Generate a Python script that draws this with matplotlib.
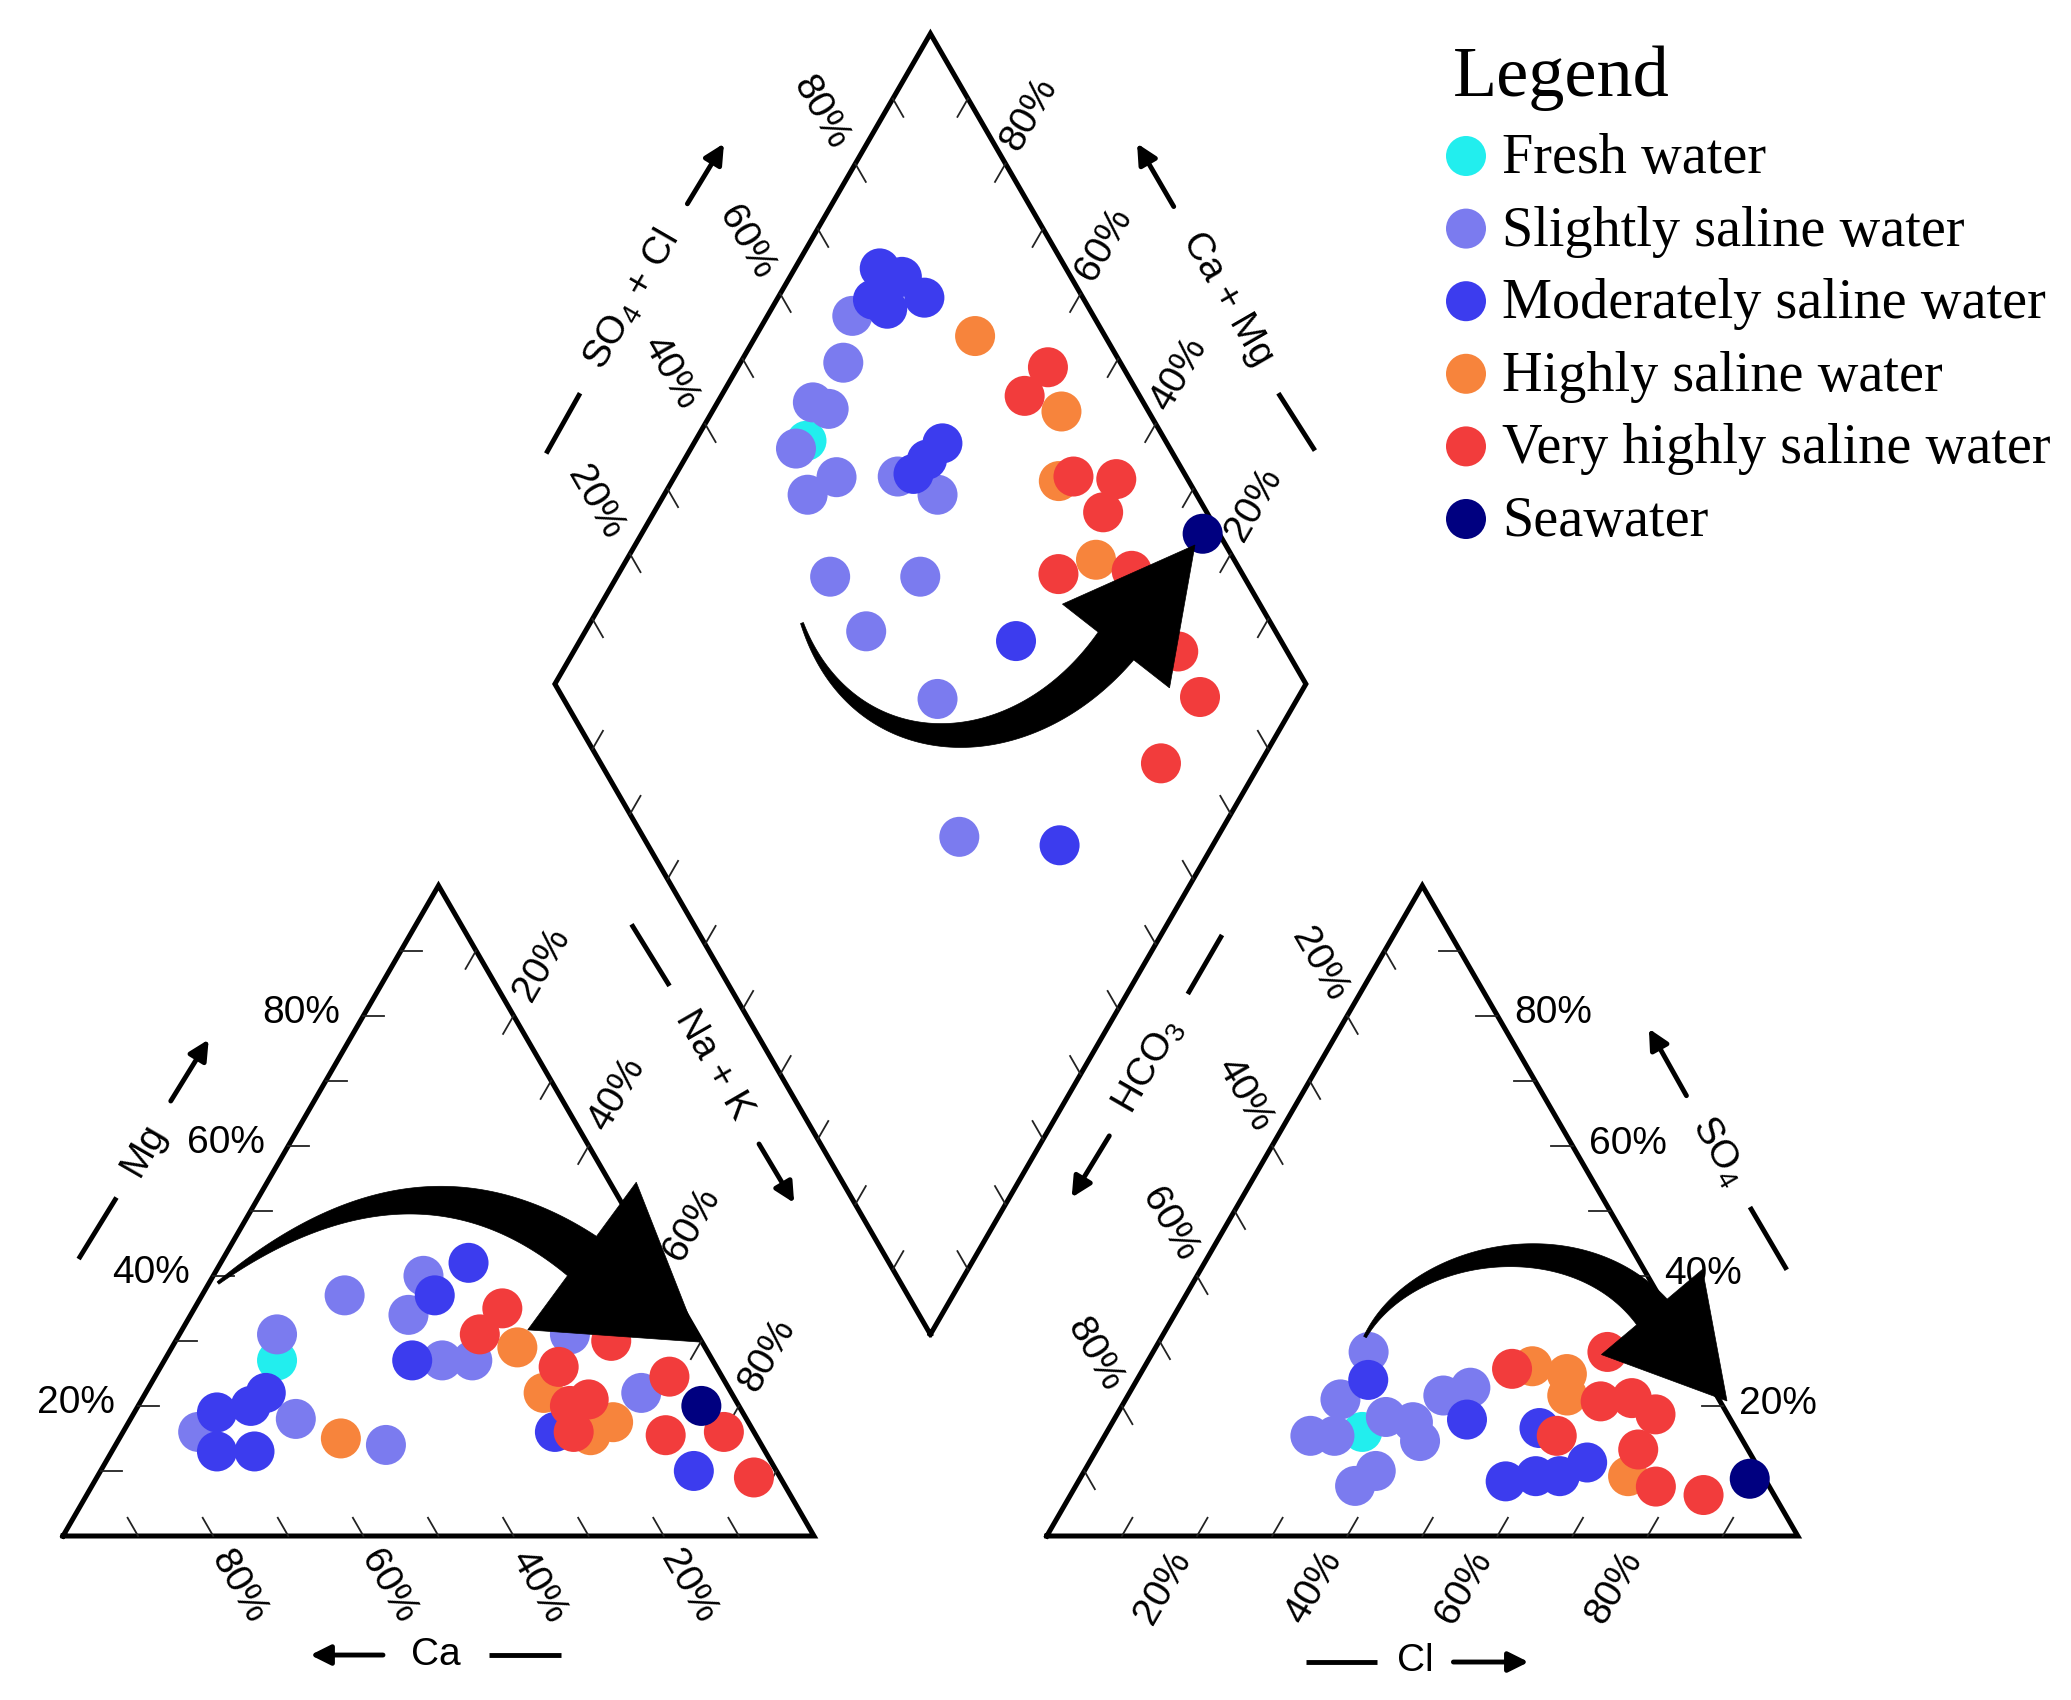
import numpy as np
import matplotlib
matplotlib.use('Agg')
import matplotlib.pyplot as plt
from matplotlib.patches import Polygon

plt.rcParams['font.family'] = ['Liberation Sans', 'DejaVu Sans']
plt.rcParams['mathtext.fontset'] = 'custom'
plt.rcParams['mathtext.rm'] = 'Liberation Sans'
plt.rcParams['mathtext.it'] = 'Liberation Sans:italic'
plt.rcParams['mathtext.bf'] = 'Liberation Sans:bold'

# ---------------- data ----------------
categories = ['Fresh water', 'Slightly saline water', 'Moderately saline water',
              'Highly saline water', 'Very highly saline water', 'Seawater']
colors = ['#22eeee', '#7b7bef', '#3c3cee', '#f7843c', '#f23c3c', '#000080']

# cation triangle: Ca %, Mg %  (Na+K = 100 - Ca - Mg)
cation_ca = [
    [58],
    [56, 74, 60, 50, 44, 32, 37, 36, 32, 17, 12],
    [62, 65, 70, 73, 68, 32, 25, 40, 26.5, 11],
    [55.5, 25, 25, 18, 22],
    [24, 29, 12, 21, 19.5, 22.5, 24, 7, 12, 4, 3.5],
    [5],
]
cation_mg = [
    [27],
    [31, 16, 18, 14, 37, 40, 34, 27, 27, 31, 22],
    [22, 20, 19, 13, 13, 37, 42, 27, 16, 10],
    [15, 29, 22, 17.5, 15.5],
    [35, 31, 30, 26, 21, 20, 16, 24.5, 15.5, 16, 9],
    [20],
]
# anion triangle: Cl %, SO4 %  (HCO3 = 100 - Cl - SO4)
anion_cl = [
    [34],
    [28.7, 28.6, 27.4, 30.6, 36, 40, 42.4, 42, 45, 38.8, 37.2],
    [30.8, 47, 57.3, 56.9, 60.5, 63.7, 66.3],
    [51.6, 56.8, 58.5, 72.8],
    [49.1, 60.2, 60.5, 63.4, 67.3, 71.7, 72.1, 77.3, 84.3],
    [89.2],
]
anion_so4 = [
    [16],
    [28.3, 21, 15.4, 15.4, 18.3, 17.5, 14.6, 21.6, 22.8, 10, 7.7],
    [24, 17.9, 16.6, 8.4, 9.2, 9.2, 11.3],
    [26.1, 24.9, 21.6, 9.2],
    [25.7, 15.4, 28.3, 20.7, 21.2, 18.7, 13.3, 7.6, 6.3],
    [8.8],
]
# diamond: SO4+Cl %, Ca+Mg %
diamond_so4cl = [
    [52.2],
    [67.9, 63.1, 56, 57.6, 50.2, 53.4, 48.2, 61.6, 65.5, 44.9, 56.9, 45.5, 49.8, 42.1],
    [75.2, 77.5, 78.9, 73.1, 71.9, 70.1, 66.8, 63.9, 64.7, 54.8],
    [82.7, 88.4, 82.7, 81.6],
    [90, 84.7, 85, 90.5, 86.2, 75.5, 85.5, 85.5, 84.9, 74.6],
    [97.8],
]
diamond_camg = [
    [85.2],
    [88.7, 86.3, 87.3, 84.7, 86, 78.4, 80.9, 70.3, 63.6, 71.6, 59.6, 62.6, 47.9, 34.4],
    [88.7, 85.1, 80.5, 84.6, 87.2, 66.9, 67.7, 68.4, 41.9, 20.4],
    [70.8, 53.5, 48.5, 37.5],
    [58.7, 59.6, 46.9, 41, 40.2, 41.4, 31.9, 19.5, 13.1, 13.2],
    [25.3],
]
tick_values = [10, 20, 30, 40, 50, 60, 70, 80, 90]
label_values = [20, 40, 60, 80]

# ---------------- geometry ----------------
SQ = np.sqrt(3) / 2
GAP = 0.31
OX = 1 + GAP
BX, BY = 1 + GAP / 2, GAP * SQ
PX = 751.0  # pixels per unit


def cation_xy(ca, mg):
    ca = np.asarray(ca, float) / 100
    mg = np.asarray(mg, float) / 100
    nak = 1 - ca - mg
    return nak + mg / 2, mg * SQ


def anion_xy(cl, so4):
    cl = np.asarray(cl, float) / 100
    so4 = np.asarray(so4, float) / 100
    return OX + cl + so4 / 2, so4 * SQ


def diamond_xy(a, b):
    a = np.asarray(a, float) / 100
    b = np.asarray(b, float) / 100
    return BX + 0.5 * (a - b), BY + SQ * (a + b)


fig = plt.figure(figsize=(20.71, 17.0), dpi=100)
ax = fig.add_axes([0, 0, 1, 1])
ax.set_xlim(-63 / PX, (2071 - 63) / PX)
ax.set_ylim(-(1700 - 1536) / PX, 1536 / PX)
ax.axis('off')

# frames
frames = [
    [(0, 0), (1, 0), (0.5, SQ), (0, 0)],
    [(OX, 0), (OX + 1, 0), (OX + 0.5, SQ), (OX, 0)],
    [(BX, BY), (BX + 0.5, BY + SQ), (BX, BY + 2 * SQ), (BX - 0.5, BY + SQ), (BX, BY)],
]
for fr in frames:
    xs, ys = zip(*fr)
    ax.plot(xs, ys, color='k', lw=3.6, solid_joinstyle='miter', solid_capstyle='projecting', zorder=2)

# ticks
TL = 0.028
d1 = np.array([0.5, SQ])
d2 = np.array([-0.5, SQ])
B = np.array([BX, BY])


def tick(p, d):
    p = np.asarray(p, float)
    d = np.asarray(d, float)
    q = p + TL * d
    ax.plot([p[0], q[0]], [p[1], q[1]], color='#222222', lw=1.3, zorder=2)


for v in tick_values:
    f = v / 100
    # cation triangle
    tick((f / 2, f * SQ), (1, 0))                       # Mg (left)
    tick((1 - f, 0), (-0.5, SQ))                        # Ca (bottom)
    tick((0.5 + 0.5 * f, SQ * (1 - f)), (-0.5, -SQ))    # Na+K (right)
    # anion triangle
    tick((OX + f, 0), (0.5, SQ))                        # Cl (bottom)
    tick((OX + 1 - 0.5 * f, SQ * f), (-1, 0))           # SO4 (right)
    tick((OX + 0.5 * (1 - f), SQ * (1 - f)), (0.5, -SQ))  # HCO3 (left)
    # diamond
    tick(B + f * d1 + d2, -d2)
    tick(B + d1 + f * d2, -d1)
    tick(B + f * d2, d1)
    tick(B + f * d1, d2)

# tick labels
FS = 28
for v in label_values:
    f = v / 100
    lab = f'{v}%'
    ax.text(f / 2 - 0.083, f * SQ + 0.004, lab, fontsize=FS, ha='center', va='center')
    ax.text(1 - f + 0.033, -0.068, lab, fontsize=FS, ha='center', va='center', rotation=-60)
    p = np.array([0.5 + 0.5 * f, SQ * (1 - f)])
    ax.text(p[0] + 0.037, p[1] + 0.068, lab, fontsize=FS, ha='center', va='center', rotation=60)
    ax.text(OX + f - 0.045, -0.068, lab, fontsize=FS, ha='center', va='center', rotation=60)
    ax.text(OX + 1 - 0.5 * f + 0.074, SQ * f + 0.003, lab, fontsize=FS, ha='center', va='center')
    p = np.array([OX + 0.5 * (1 - f), SQ * (1 - f)])
    ax.text(p[0] - 0.037, p[1] + 0.068, lab, fontsize=FS, ha='center', va='center', rotation=-60)
    p = B + f * d1 + d2
    ax.text(p[0] - 0.046, p[1] + 0.068, lab, fontsize=FS, ha='center', va='center', rotation=-60)
    p = B + d1 + f * d2
    ax.text(p[0] + 0.031, p[1] + 0.066, lab, fontsize=FS, ha='center', va='center', rotation=60)

# axis names with dash + arrow
axis_names = [
    # text, text pos, rotation, dash (p0, p1), arrow (tail, tip)
    ('Mg', (0.107, 0.515), 60, ((0.0208, 0.3688), (0.0712, 0.4507)), ((0.1435, 0.5792), (0.194, 0.6611))),
    ('Ca', (0.4965, -0.1585), 0, ((0.5668, -0.1585), (0.6635, -0.1585)), ((0.4261, -0.1585), (0.3294, -0.1585))),
    ('Na + K', (0.867, 0.627), -60, ((0.757, 0.8145), (0.8076, 0.7325)), ((0.9268, 0.522), (0.9736, 0.4435))),
    ('HCO$_3$', (1.445, 0.625), 60, ((1.5433, 0.8003), (1.4977, 0.7217)), ((1.3932, 0.5328), (1.3431, 0.4507))),
    ('SO$_4$', (2.204, 0.512), -60, ((2.2463, 0.438), (2.2953, 0.3545)), ((2.1617, 0.5863), (2.1117, 0.6755))),
    ('Cl', (1.8006, -0.1663), 0, ((1.6551, -0.1678), (1.7497, -0.1678)), ((1.8514, -0.1678), (1.9515, -0.1678))),
    ('SO$_4$ + Cl', (0.7577, 1.6452), 60, ((0.6434, 1.4414), (0.6885, 1.5217)), ((0.8314, 1.7739), (0.8801, 1.8542))),
    ('Ca + Mg', (1.5505, 1.6465), -60, ((1.6183, 1.5217), (1.667, 1.4453)), ((1.479, 1.7702), (1.4302, 1.8542))),
]
for name, pos, rot, dash, arr in axis_names:
    ax.text(pos[0], pos[1], name, fontsize=FS, ha='center', va='center', rotation=rot)
    ax.plot([dash[0][0], dash[1][0]], [dash[0][1], dash[1][1]], color='k', lw=3.5,
            solid_capstyle='butt')
    ax.annotate('', xy=arr[1], xytext=arr[0],
                arrowprops=dict(arrowstyle='-|>', lw=3.5, color='k', mutation_scale=30,
                                shrinkA=0, shrinkB=0))

# data points
S_MARK = 830
for i, cat in enumerate(categories):
    x, y = cation_xy(cation_ca[i], cation_mg[i])
    ax.scatter(x, y, s=S_MARK, color=colors[i], edgecolors='none', zorder=3)
    x, y = anion_xy(anion_cl[i], anion_so4[i])
    ax.scatter(x, y, s=S_MARK, color=colors[i], edgecolors='none', zorder=3)
    x, y = diamond_xy(diamond_so4cl[i], diamond_camg[i])
    ax.scatter(x, y, s=S_MARK, color=colors[i], edgecolors='none', zorder=3)


# curved trend arrows
def curved_arrow(S, dS, a, H, b, T, w0, w1, hw):
    S = np.array(S, float); H = np.array(H, float); T = np.array(T, float)
    dS = np.array(dS, float); dS /= np.linalg.norm(dS)
    u = (T - H) / np.linalg.norm(T - H)
    C1 = S + a * dS
    C2 = H - b * u
    t = np.linspace(0, 1, 160)[:, None]
    P = (1 - t) ** 3 * S + 3 * (1 - t) ** 2 * t * C1 + 3 * (1 - t) * t ** 2 * C2 + t ** 3 * H
    D = 3 * (1 - t) ** 2 * (C1 - S) + 6 * (1 - t) * t * (C2 - C1) + 3 * t ** 2 * (H - C2)
    D /= np.linalg.norm(D, axis=1)[:, None]
    N = np.column_stack([-D[:, 1], D[:, 0]])
    w = (w0 + (w1 - w0) * t[:, 0] ** 1.1) / 2
    left = P + N * w[:, None]
    right = P - N * w[:, None]
    n = np.array([-u[1], u[0]])
    bl = H + n * hw / 2
    br = H - n * hw / 2
    pts = np.vstack([left, bl, T, br, right[::-1]])
    ax.add_patch(Polygon(pts, closed=True, fc='k', ec='k', lw=0.5, zorder=6))


curved_arrow((0.2064, 0.3369), (0.796, 0.606), 0.2, (0.6911, 0.3728), 0.2, (0.8469, 0.2583),
             0.004, 0.065, 0.244)
curved_arrow((0.9840, 1.2157), (0.33, -0.944), 0.2, (1.4021, 1.1851), 0.213, (1.5073, 1.3196),
             0.004, 0.06, 0.181)
curved_arrow((1.7337, 0.265), (0.47, 0.88), 0.133, (2.1158, 0.2983), 0.16, (2.2157, 0.1798),
             0.004, 0.053, 0.176)

# legend
leg_x = (1466 - 63) / PX
txt_x = (1502 - 63) / PX
ax.text((1453 - 63) / PX, (1536 - 96) / PX, 'Legend', fontsize=52, family='Liberation Serif',
        va='baseline', ha='left')
for i, cat in enumerate(categories):
    ypx = 156 + 72.6 * i
    y = (1536 - ypx) / PX
    ax.scatter([leg_x], [y], s=S_MARK, color=colors[i], edgecolors='none', zorder=3)
    ax.text(txt_x, y - 17 / PX, cat, fontsize=40.5, family='Liberation Serif',
            va='baseline', ha='left')

fig.savefig('out.png', dpi=100, facecolor='white')
